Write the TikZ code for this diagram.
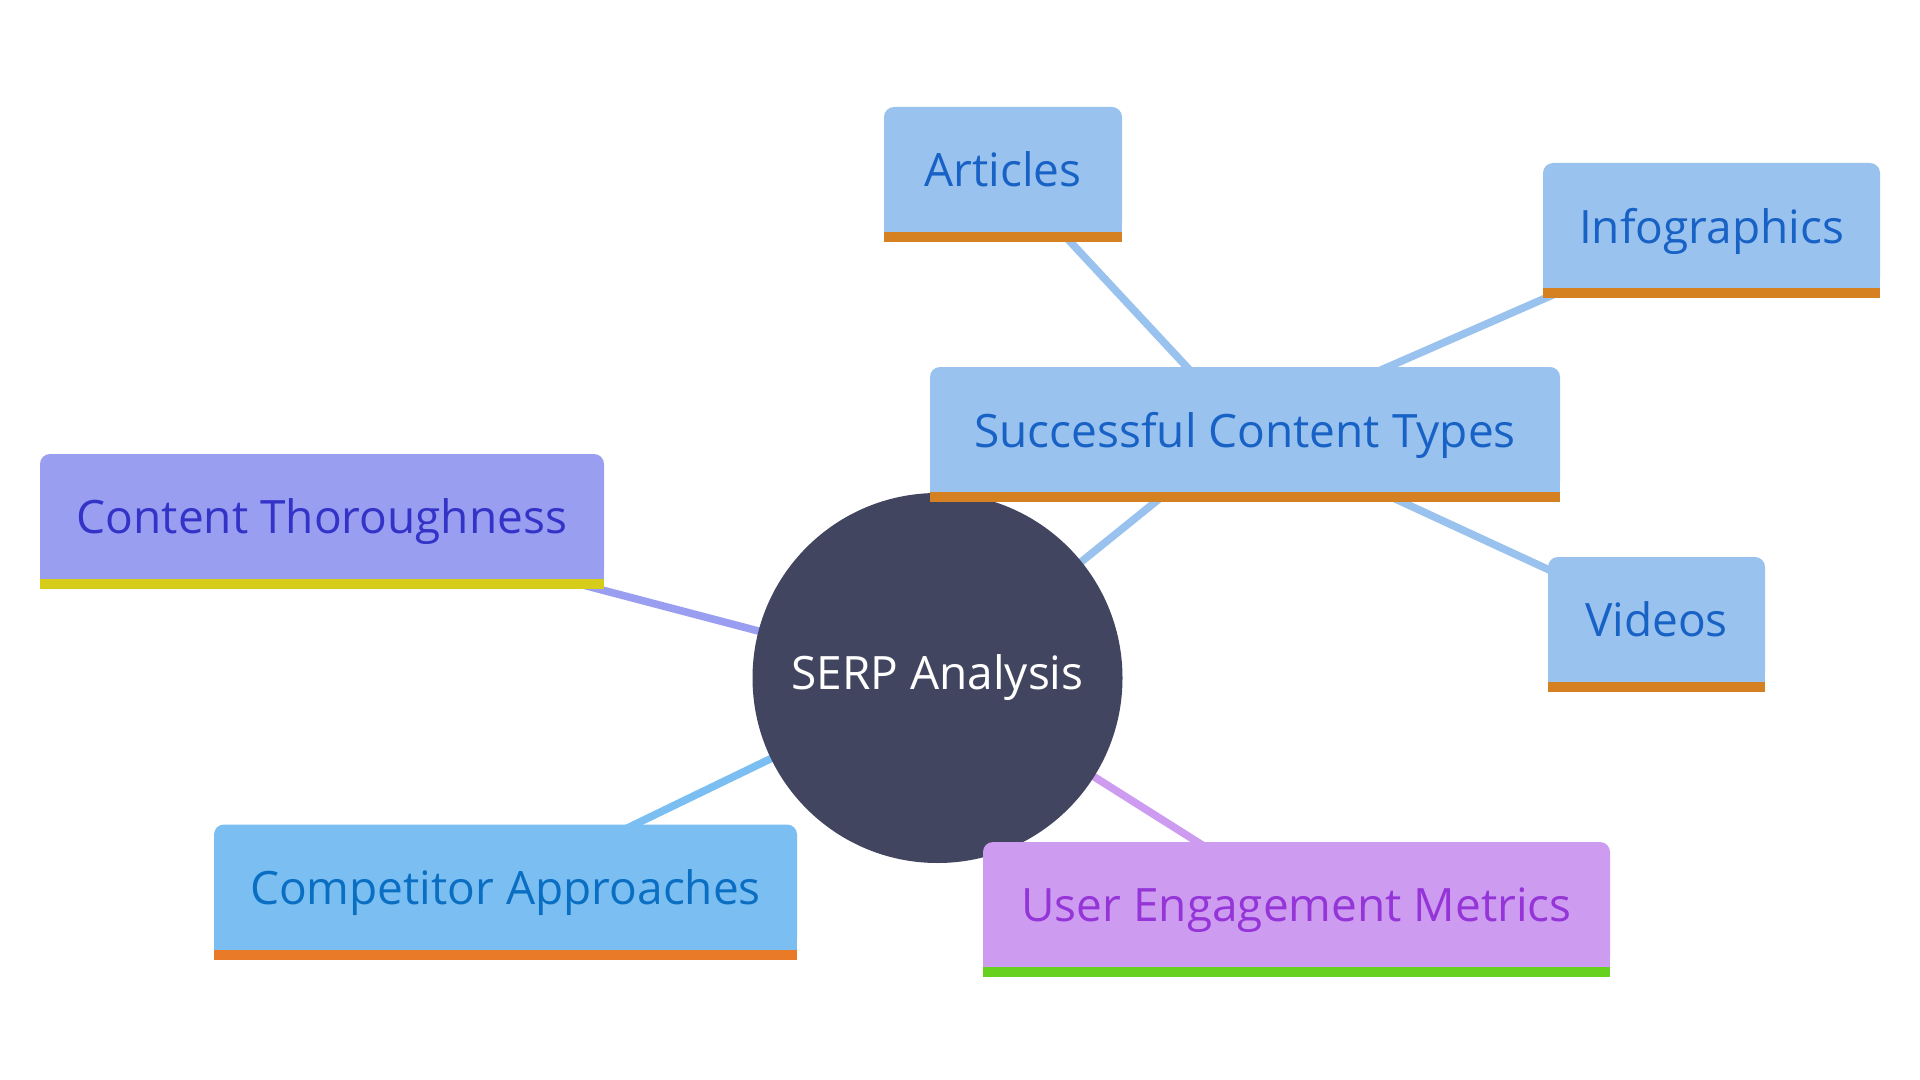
\documentclass[tikz,border=0pt]{standalone}
\usepackage{fontspec}
\setmainfont{Open Sans}
\definecolor{hub}{HTML}{414560}
\definecolor{lblue}{HTML}{99C2EE}
\definecolor{lbluetxt}{HTML}{1862C6}
\definecolor{orng}{HTML}{D58021}
\definecolor{lav}{HTML}{999EF1}
\definecolor{lavtxt}{HTML}{3333C8}
\definecolor{yel}{HTML}{D6CC1A}
\definecolor{sky}{HTML}{7BBFF2}
\definecolor{skytxt}{HTML}{0A6FC2}
\definecolor{orng2}{HTML}{E97A28}
\definecolor{pur}{HTML}{CD9CF1}
\definecolor{purtxt}{HTML}{9535D8}
\definecolor{grn}{HTML}{66D21F}
\tikzset{
  box/.style={rectangle, rounded corners=5pt, minimum height=62.5pt, inner sep=0pt, text depth=0pt, font=\fontsize{23}{27}\selectfont},
  bluebox/.style={box, fill=lblue, text=lbluetxt},
  edge/.style={line width=3.8pt},
}
\newcommand{\boxbase}[3]{%
  \fill[#2] (#1.south west) rectangle ([yshift=6pt]#1.south east);
  \fill[#3] (#1.south west) rectangle ([yshift=-5pt]#1.south east);}
\begin{document}
\begin{tikzpicture}[x=0.5pt,y=-0.5pt]
\useasboundingbox (0,0) rectangle (1920,1080);
\fill[white] (0,0) rectangle (1920,1080);
% node coordinates for edges
\coordinate (cHub) at (937.5,678);
\coordinate (cSuc) at (1245,429.5);
% edges
\draw[edge, lav] (cHub) -- (322,516.5) coordinate (cCT);
\draw[edge, sky] (cHub) -- (505.5,887) coordinate (cCA);
\draw[edge, pur] (cHub) -- (1296.5,904.5) coordinate (cUE);
\draw[edge, lblue] (cHub) -- (cSuc);
\draw[edge, lblue] (cSuc) -- (1003,169.5) coordinate (cAr);
\draw[edge, lblue] (cSuc) -- (1711.5,225.5) coordinate (cIn);
\draw[edge, lblue] (cSuc) -- (1656.5,619.5) coordinate (cVi);
% hub
\node[circle, fill=hub, text=white, minimum size=185pt, inner sep=0pt, font=\fontsize{23}{27}\selectfont] (hub) at (cHub) {SERP Analysis};
% boxes
\node[bluebox, minimum width=315pt] (suc) at (cSuc) {Successful Content Types};
\boxbase{suc}{lblue}{orng}
\node[bluebox, minimum width=119pt] (art) at (cAr) {Articles};
\boxbase{art}{lblue}{orng}
\node[bluebox, minimum width=168.5pt] (inf) at (cIn) {Infographics};
\boxbase{inf}{lblue}{orng}
\node[bluebox, minimum width=108.5pt] (vid) at (cVi) {Videos};
\boxbase{vid}{lblue}{orng}
\node[box, fill=lav, text=lavtxt, minimum width=282pt] (ct) at (cCT) {Content Thoroughness};
\boxbase{ct}{lav}{yel}
\node[box, fill=sky, text=skytxt, minimum width=291.5pt] (ca) at (cCA) {Competitor Approaches};
\boxbase{ca}{sky}{orng2}
\node[box, fill=pur, text=purtxt, minimum width=313.5pt] (ue) at (cUE) {User Engagement Metrics};
\boxbase{ue}{pur}{grn}
\end{tikzpicture}
\end{document}
